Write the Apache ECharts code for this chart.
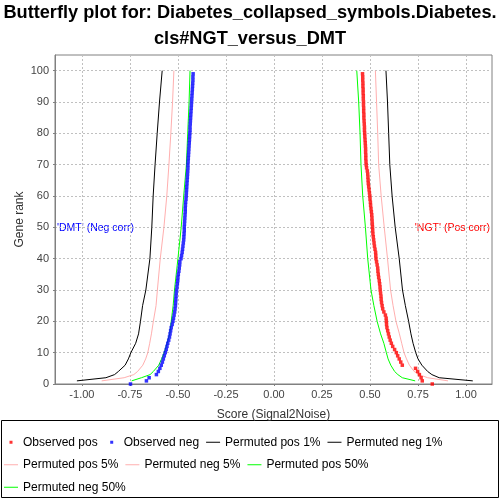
<!DOCTYPE html>
<html>
<head>
<meta charset="utf-8">
<script src="https://cdn.jsdelivr.net/npm/echarts@6/dist/echarts.min.js"></script>
<style>html,body{margin:0;padding:0;background:#fff;}#c{width:500px;height:500px;}</style>
</head>
<body>
<div id="c"></div>
<script>
// ---- data ----
var titleLines = ['Butterfly plot for: Diabetes_collapsed_symbols.Diabetes.', 'cls#NGT_versus_DMT'];
var xTicks = [-1.0, -0.75, -0.5, -0.25, 0, 0.25, 0.5, 0.75, 1.0];
var yTicks = [0, 10, 20, 30, 40, 50, 60, 70, 80, 90, 100];
var seriesNames = ['Observed pos', 'Observed neg', 'Permuted pos 1%', 'Permuted neg 1%',
  'Permuted pos 5%', 'Permuted neg 5%', 'Permuted pos 50%', 'Permuted neg 50%'];

// observed scores, index = gene rank (0..99)
var observedPos = [0.824,0.772,0.766,0.757,0.748,0.737,0.668,0.660,0.652,0.644,
  0.637,0.628,0.618,0.611,0.605,0.600,0.596,0.592,0.588,0.586,
  0.585,0.584,0.580,0.572,0.566,0.563,0.560,0.558,0.557,0.555,
  0.553,0.552,0.550,0.548,0.545,0.543,0.541,0.540,0.537,0.534,
  0.531,0.530,0.529,0.526,0.523,0.521,0.519,0.517,0.515,0.514,
  0.513,0.512,0.511,0.510,0.509,0.507,0.505,0.503,0.502,0.500,
  0.499,0.497,0.495,0.493,0.491,0.490,0.489,0.488,0.486,0.482,
  0.480,0.479,0.478,0.478,0.477,0.477,0.476,0.475,0.474,0.473,
  0.472,0.471,0.471,0.470,0.469,0.468,0.468,0.467,0.467,0.466,
  0.466,0.465,0.465,0.464,0.464,0.463,0.463,0.462,0.462,0.461];
var observedNeg = [-0.747,-0.664,-0.650,-0.612,-0.602,-0.594,-0.587,-0.581,-0.576,-0.571,
  -0.566,-0.561,-0.557,-0.553,-0.548,-0.544,-0.541,-0.538,-0.535,-0.530,
  -0.526,-0.523,-0.520,-0.517,-0.515,-0.513,-0.512,-0.511,-0.510,-0.509,
  -0.507,-0.505,-0.503,-0.501,-0.500,-0.498,-0.495,-0.493,-0.491,-0.490,
  -0.484,-0.481,-0.478,-0.476,-0.474,-0.472,-0.470,-0.469,-0.468,-0.467,
  -0.467,-0.466,-0.465,-0.464,-0.463,-0.462,-0.462,-0.461,-0.460,-0.458,
  -0.457,-0.456,-0.455,-0.454,-0.453,-0.452,-0.451,-0.450,-0.449,-0.448,
  -0.448,-0.447,-0.446,-0.445,-0.444,-0.443,-0.442,-0.441,-0.440,-0.439,
  -0.438,-0.437,-0.437,-0.436,-0.435,-0.434,-0.433,-0.432,-0.431,-0.430,
  -0.429,-0.428,-0.427,-0.426,-0.425,-0.424,-0.423,-0.422,-0.422,-0.421];

// permuted curves, read at these ranks
var permRanks = [1, 2, 3, 4, 6, 8, 10, 13, 16, 20, 25, 30, 40, 50, 60, 70, 80, 90, 100];
var permPos1  = [1.035,0.860,0.822,0.800,0.770,0.750,0.738,0.724,0.713,0.701,0.684,0.669,0.652,0.631,0.615,0.603,0.597,0.591,0.583];
var permNeg1  = [-1.026,-0.875,-0.830,-0.810,-0.775,-0.758,-0.745,-0.720,-0.705,-0.695,-0.684,-0.667,-0.646,-0.636,-0.629,-0.619,-0.608,-0.596,-0.582];
var permPos5  = [0.906,0.800,0.755,0.730,0.705,0.690,0.677,0.665,0.653,0.635,0.620,0.607,0.591,0.574,0.558,0.545,0.540,0.534,0.528];
var permNeg5  = [-0.897,-0.780,-0.730,-0.710,-0.683,-0.668,-0.657,-0.647,-0.638,-0.628,-0.614,-0.607,-0.592,-0.573,-0.558,-0.547,-0.537,-0.528,-0.521];
var permPos50 = [0.735,0.668,0.645,0.628,0.608,0.594,0.585,0.572,0.555,0.537,0.520,0.505,0.488,0.476,0.462,0.453,0.448,0.441,0.431];
var permNeg50 = [-0.741,-0.690,-0.645,-0.628,-0.600,-0.585,-0.572,-0.556,-0.543,-0.535,-0.525,-0.518,-0.500,-0.483,-0.470,-0.456,-0.449,-0.442,-0.437];

var negLabel = "'DMT' (Neg corr)";
var posLabel = "'NGT' (Pos corr)";

// ---- build ----
function obsData(arr) { return arr.map(function (v, i) { return [v, i]; }); }
function permData(arr) { return arr.map(function (v, i) { return [v, permRanks[i]]; }); }

var FONT = 'Liberation Sans, Arial, sans-serif';
var colors = ['#ff0000', '#0000ff', '#000000', '#000000', '#ffafaf', '#ffafaf', '#00ff00', '#00ff00'];
var permArrays = [permPos1, permNeg1, permPos5, permNeg5, permPos50, permNeg50];

var series = [];
permArrays.forEach(function (arr, k) {
  series.push({
    name: seriesNames[k + 2], type: 'line', data: permData(arr),
    symbol: 'none', showSymbol: false, smooth: false, z: 2,
    lineStyle: { width: 1, color: colors[k + 2] }, itemStyle: { color: colors[k + 2] }
  });
});
[observedPos, observedNeg].forEach(function (arr, k) {
  series.push({
    name: seriesNames[k], type: 'scatter', data: obsData(arr),
    symbol: 'rect', symbolSize: 3.5, z: 3,
    itemStyle: { color: colors[k] }
  });
});

var IH = 15.5;
var sqIcon = 'path://M0,0M14,' + IH + 'M5.5,' + (IH / 2 - 1.5) + 'h3v3h-3z';
var lnIcon = 'path://M0,0M14,' + IH + 'M0,' + (IH / 2 - 0.5) + 'h14v1h-14z';
var legendData = seriesNames.map(function (n, i) {
  return { name: n, icon: i < 2 ? sqIcon : lnIcon };
});

var chart = echarts.init(document.getElementById('c'), null, { renderer: 'canvas' });
chart.setOption({
  animation: false,
  backgroundColor: '#ffffff',
  title: {
    text: titleLines.join('\n'), left: 'center', top: 0, padding: 0,
    textStyle: { fontFamily: FONT, fontSize: 18.2, fontWeight: 'bold', color: '#000', lineHeight: 26 }
  },
  grid: { left: 55, right: 8, top: 55, bottom: 116, show: true, borderColor: '#808080', borderWidth: 1, backgroundColor: '#fff', outerBoundsMode: 'none' },
  xAxis: {
    type: 'value', min: -1.14, max: 1.135,
    name: 'Score (Signal2Noise)', nameLocation: 'middle', nameGap: 25, nameMoveOverlap: false,
    nameTextStyle: { fontFamily: FONT, fontSize: 12, color: '#333' },
    axisLine: { show: true, onZero: false, lineStyle: { color: '#808080' } },
    axisTick: { show: true, length: 2, customValues: xTicks, lineStyle: { color: '#808080' } },
    axisLabel: { customValues: xTicks, fontFamily: FONT, fontSize: 11, color: '#444', margin: 5,
      formatter: function (v) { return v.toFixed(2); } },
    splitLine: { show: true, lineStyle: { color: '#c0c0c0', type: [2, 2], width: 1 } }
  },
  yAxis: {
    type: 'value', min: 0, max: 105,
    name: 'Gene rank', nameLocation: 'middle', nameGap: 29, nameRotate: 90, nameMoveOverlap: false,
    nameTextStyle: { fontFamily: FONT, fontSize: 12, color: '#333' },
    axisLine: { show: true, onZero: false, lineStyle: { color: '#808080' } },
    axisTick: { show: true, length: 2, customValues: yTicks, lineStyle: { color: '#808080' } },
    axisLabel: { customValues: yTicks, fontFamily: FONT, fontSize: 11, color: '#444', margin: 6 },
    splitLine: { show: true, lineStyle: { color: '#c0c0c0', type: [2, 2], width: 1 } }
  },
  legend: {
    data: legendData, left: 4, top: 434.5, width: 480, padding: 0,
    itemWidth: 14, itemHeight: IH, itemGap: 7, selectedMode: false,
    textStyle: { fontFamily: FONT, fontSize: 12, color: '#000' }
  },
  graphic: [
    { type: 'rect', shape: { x: 1.5, y: 420.5, width: 497, height: 77 }, style: { fill: 'none', stroke: '#000', lineWidth: 1 }, silent: true },
    { type: 'text', left: 57, top: 223, style: { text: negLabel, fill: '#0000ff', font: '10.5px ' + FONT } },
    { type: 'text', right: 10, top: 223, style: { text: posLabel, fill: '#ff0000', font: '10.5px ' + FONT } }
  ],
  series: series
});
</script>
</body>
</html>
